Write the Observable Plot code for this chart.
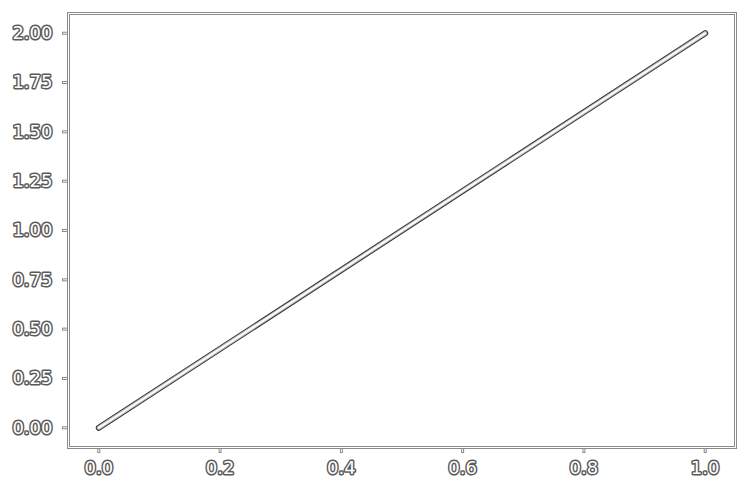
<!DOCTYPE html>
<html>
<head>
<meta charset="utf-8">
<script src="https://cdn.jsdelivr.net/npm/d3@7"></script>
<script src="https://cdn.jsdelivr.net/npm/@observablehq/plot@0.6"></script>
<style>
  html, body { margin: 0; padding: 0; background: white; }
  #chart svg { display: block; }
</style>
</head>
<body>
<div id="chart"></div>
<script>
const xValues = [0, 1];
const yValues = [0, 2];
const xTicks = [0, 0.2, 0.4, 0.6, 0.8, 1.0];
const yTicks = [0, 0.25, 0.5, 0.75, 1.0, 1.25, 1.5, 1.75, 2.0];

const data = xValues.map((x, i) => ({x, y: yValues[i]}));
const font = {fontFamily: "DejaVu Sans", fontSize: 18, fontWeight: "normal"};

const chart = Plot.plot({
  width: 743,
  height: 495,
  marginLeft: 68,
  marginRight: 8,
  marginTop: 13,
  marginBottom: 48,
  style: {background: "white"},
  x: {domain: [-0.05, 1.05]},
  y: {domain: [-0.1, 2.1]},
  marks: [
    Plot.axisX({ticks: xTicks, tickSize: 6, text: null, stroke: "#8a8a8a", strokeWidth: 3, label: null}),
    Plot.axisX({ticks: xTicks, tickSize: 5, text: null, stroke: "white", strokeWidth: 1, label: null}),
    Plot.axisY({ticks: yTicks, tickSize: 6, text: null, stroke: "#8a8a8a", strokeWidth: 3, label: null}),
    Plot.axisY({ticks: yTicks, tickSize: 5, text: null, stroke: "white", strokeWidth: 1, label: null}),
    Plot.axisX({ticks: xTicks, tickSize: 0, tickPadding: 14, tickFormat: d3.format(".1f"),
      fill: "white", textStroke: "#5a5a5a", textStrokeWidth: 3, label: null, ...font}),
    Plot.axisY({ticks: yTicks, tickSize: 0, tickPadding: 16, tickFormat: d3.format(".2f"),
      fill: "white", textStroke: "#5a5a5a", textStrokeWidth: 3, label: null, ...font}),
    Plot.frame({stroke: "#8a8a8a", strokeWidth: 3}),
    Plot.frame({stroke: "white", strokeWidth: 1}),
    Plot.line(data, {x: "x", y: "y", stroke: "#333", strokeWidth: 6, strokeLinecap: "round"}),
    Plot.line(data, {x: "x", y: "y", stroke: "#bbb", strokeWidth: 4, strokeLinecap: "round"}),
    Plot.line(data, {x: "x", y: "y", stroke: "white", strokeWidth: 2, strokeLinecap: "round"})
  ]
});
document.getElementById("chart").appendChild(chart);
</script>
</body>
</html>
